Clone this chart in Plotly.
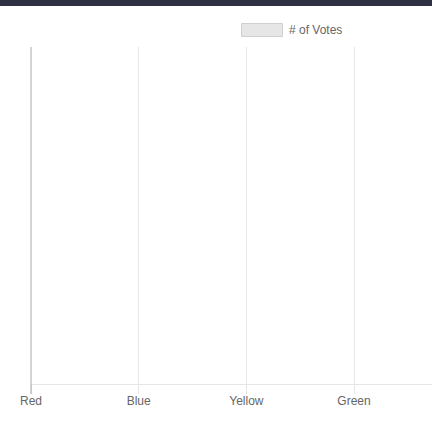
import plotly.graph_objects as go

# chart data (the dataset has no visible values)
labels = ["Red", "Blue", "Yellow", "Green"]
votes = [None, None, None, None]
series_name = "# of Votes"

W, H = 432, 429
left, top, bottom = 31, 47, 45
plot_w = W - left
plot_h = H - top - bottom


def px_x(x):
    return (x - left) / plot_w


def px_y(y):
    return (H - bottom - y) / plot_h


fig = go.Figure()
fig.add_trace(go.Scatter(x=list(range(len(labels))), y=votes, name=series_name,
                         mode="lines", line=dict(color="rgba(0,0,0,0.1)"),
                         showlegend=False))

grid = "#e6e6e6"
fig.update_xaxes(tickvals=list(range(len(labels))), ticktext=labels,
                 range=[0, 3.724], showgrid=True, gridcolor=grid, gridwidth=1,
                 showline=True, linecolor=grid, linewidth=1,
                 ticks="outside", ticklen=9, tickcolor=grid,
                 ticklabelstandoff=-3,
                 tickfont=dict(family="Liberation Sans, Arial", size=12, color="#666"),
                 zeroline=False, fixedrange=True)
fig.update_yaxes(range=[0, 1], showgrid=False, showticklabels=False,
                 zeroline=False, showline=False, fixedrange=True)

shapes = [
    # dark strip at the top of the page
    dict(type="rect", xref="paper", yref="paper", x0=px_x(-2), x1=px_x(W + 2),
         y0=px_y(6), y1=px_y(-2), fillcolor="#2f3142", line=dict(width=0)),
    # y axis line (first grid line drawn darker)
    dict(type="line", xref="paper", yref="paper", x0=0, x1=0, y0=px_y(394), y1=1,
         line=dict(color="#a8a8a8", width=1)),
    # legend box
    dict(type="rect", xref="paper", yref="paper", x0=px_x(241.5), x1=px_x(282.5),
         y0=px_y(36.5), y1=px_y(23.5), fillcolor="#e6e6e6",
         line=dict(color="#cfcfcf", width=1)),
]

fig.update_layout(
    width=W, height=H,
    margin=dict(l=left, r=0, t=top, b=bottom),
    paper_bgcolor="white", plot_bgcolor="white",
    showlegend=False,
    shapes=shapes,
    annotations=[dict(text=series_name, xref="paper", yref="paper",
                      x=px_x(287), y=px_y(30), xanchor="left", yanchor="middle",
                      showarrow=False,
                      font=dict(family="Liberation Sans, Arial", size=12, color="#666"))],
)

fig.write_html("out.html", config={"displayModeBar": False},
               post_script="document.body.style.margin='0';document.body.style.overflow='hidden';")
